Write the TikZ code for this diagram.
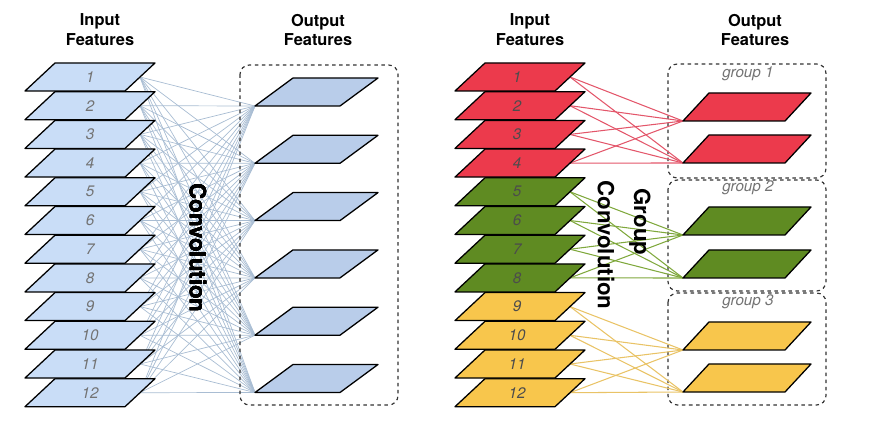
\documentclass[tikz,border=0pt]{standalone}
\usepackage{fontspec}
\setmainfont{TeX Gyre Heros}
\usetikzlibrary{positioning}
\definecolor{inblue}{HTML}{C9DDF7}
\definecolor{outblue}{HTML}{B9CDEA}
\definecolor{linkblue}{HTML}{A9BDD3}
\definecolor{fred}{HTML}{EC3A4C}
\definecolor{fgreen}{HTML}{5F8B22}
\definecolor{fyellow}{HTML}{F8C64C}
\definecolor{lred}{HTML}{E3566A}
\definecolor{lgreen}{HTML}{7FA83C}
\definecolor{lyellow}{HTML}{E9C366}
\tikzset{
  layer/.style={draw=black, line width=1.1pt, line join=round},
  link/.style={line width=0.6pt},
  glink/.style={line width=0.9pt},
  head/.style={font=\bfseries\fontsize{14}{17}\selectfont, align=center},
  num/.style={font=\itshape\fontsize{13}{15}\selectfont, text=black!55},
  conv/.style={font=\bfseries\fontsize{19}{22}\selectfont, rotate=-90},
  box/.style={draw=black!80, dashed, line width=1pt, rounded corners=8pt},
}
% input layer: #1 x of bottom-left, #2 y centre, #3 fill, #4 name
\newcommand{\inlayer}[4]{
  \draw[layer, fill=#3] ({#1},{#2+14}) -- ++(100,0) -- ++(30,-28) -- ++(-100,0) -- cycle;
  \coordinate (#4) at ({#1+115},{#2});
}
% output layer: #1 x, #2 y centre, #3 width, #4 slant, #5 fill, #6 name
\newcommand{\outlayer}[6]{
  \draw[layer, fill=#5] ({#1},{#2+14}) -- ++(#3,0) -- ++(#4,-28) -- ++(-#3,0) -- cycle;
  \coordinate (#6) at ({#1},{#2+14});
}
\begin{document}
\begin{tikzpicture}[x=0.03cm, y=-0.03cm]
\useasboundingbox (0,0) rectangle (882,425);

% Headers
\node[head] (hinL) at (100,30) {Input\\Features};
\node[head] (houtL) at (318,30) {Output\\Features};
\node[head] (hinR) at (530,30) {Input\\Features};
\node[head] (houtR) at (755,30) {Output\\Features};

% Left: full convolution
\foreach \i in {1,...,6}
  \coordinate (lo\i) at (255,{92+57.3*(\i-1)+14});
\foreach \i in {1,...,12}
  \foreach \j in {1,...,6}
    \draw[link, linkblue] (140,{77+28.7*(\i-1)}) -- (lo\j);
\foreach \i in {12,11,...,1} {
  \inlayer{25}{77+28.7*(\i-1)}{inblue}{li\i}
  \node[num] (nl\i) at (90,{77+28.7*(\i-1)}) {\i};
}
\draw[box] (240,65) rectangle (398,405);
\foreach \i in {1,...,6}
  \outlayer{255}{92+57.3*(\i-1)}{85}{38}{outblue}{lo\i}
\node[conv] (convL) at (198,248) {Convolution};

% Right: group convolution
\draw[box] (668,64) rectangle (826,178);
\draw[box] (668,180) rectangle (826,291);
\draw[box] (668,293) rectangle (826,405);
\node[num] (g1) at (748,74) {group 1};
\node[num] (g2) at (748,188) {group 2};
\node[num] (g3) at (748,302) {group 3};

\coordinate (ro1) at (683,121);
\coordinate (ro2) at (683,163);
\coordinate (ro3) at (683,235);
\coordinate (ro4) at (683,278);
\coordinate (ro5) at (683,350);
\coordinate (ro6) at (683,392);
\foreach \i in {1,...,4} {
  \draw[glink, lred] (570,{77+28.7*(\i-1)}) -- (ro1);
  \draw[glink, lred] (570,{77+28.7*(\i-1)}) -- (ro2);
}
\foreach \i in {5,...,8} {
  \draw[glink, lgreen] (570,{77+28.7*(\i-1)}) -- (ro3);
  \draw[glink, lgreen] (570,{77+28.7*(\i-1)}) -- (ro4);
}
\foreach \i in {9,...,12} {
  \draw[glink, lyellow] (570,{77+28.7*(\i-1)}) -- (ro5);
  \draw[glink, lyellow] (570,{77+28.7*(\i-1)}) -- (ro6);
}
\foreach \i/\c in {12/fyellow,11/fyellow,10/fyellow,9/fyellow,8/fgreen,7/fgreen,6/fgreen,5/fgreen,4/fred,3/fred,2/fred,1/fred} {
  \inlayer{455}{77+28.7*(\i-1)}{\c}{ri\i}
  \node[num, text=black!70] (nr\i) at (517,{77+28.7*(\i-1)}) {\i};
}
\outlayer{683}{107}{102}{26}{fred}{ro1}
\outlayer{683}{149}{102}{26}{fred}{ro2}
\outlayer{683}{221}{102}{26}{fgreen}{ro3}
\outlayer{683}{264}{102}{26}{fgreen}{ro4}
\outlayer{683}{336}{102}{26}{fyellow}{ro5}
\outlayer{683}{378}{102}{26}{fyellow}{ro6}
\node[conv] (convR) at (606,245) {Convolution};
\node[conv] (groupR) at (640,222) {Group};

\end{tikzpicture}
\end{document}
